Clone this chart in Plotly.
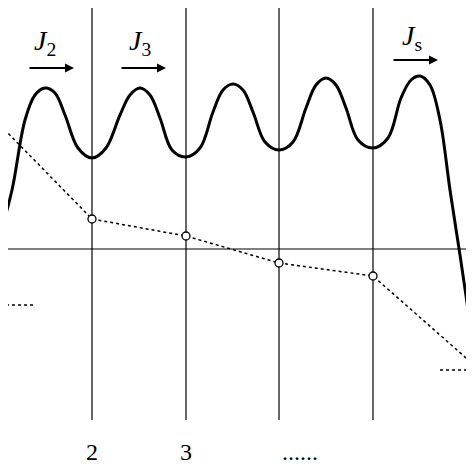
import plotly.graph_objects as go

# schematic coordinates (units on 0..474 canvas, y downward)
curve_x = [0, 12, 25, 35, 45, 55, 65, 78, 92, 106, 120, 130, 140, 150, 160, 172, 186, 200, 213, 223, 233, 243, 253, 265, 279, 293, 306, 316, 326, 336, 346, 358, 373, 388, 401, 411, 420, 430, 440, 450, 460, 474]
curve_y = [235, 190, 120, 95, 88, 93, 115, 148, 158, 148, 115, 95, 88, 95, 118, 150, 157, 148, 112, 90, 84, 90, 112, 142, 150, 142, 108, 85, 78, 85, 108, 140, 148, 138, 98, 80, 76, 85, 120, 190, 255, 350]
vlines_x = [92, 186, 279, 373]
dot_x = [0, 92, 186, 279, 373, 474]
dot_y = [125, 219, 236, 263, 276, 365]
marker_x = [92, 186, 279, 373]
marker_y = [219, 236, 263, 276]
bottom_labels = ["2", "3", "......"]
bottom_label_x = [92, 186, 300]

fig = go.Figure()
for vx in vlines_x:
    fig.add_trace(go.Scatter(x=[vx, vx], y=[0, 420], mode="lines", line=dict(color="black", width=1.2), hoverinfo="skip"))
fig.add_trace(go.Scatter(x=[0, 474], y=[249, 249], mode="lines", line=dict(color="black", width=1.2)))
fig.add_trace(go.Scatter(x=curve_x, y=curve_y, mode="lines", line=dict(color="black", width=3, shape="spline", smoothing=1)))
fig.add_trace(go.Scatter(x=dot_x, y=dot_y, mode="lines", line=dict(color="black", width=1.5, dash="dot")))
fig.add_trace(go.Scatter(x=marker_x, y=marker_y, mode="markers", marker=dict(color="white", size=8, line=dict(color="black", width=1.3))))
fig.add_trace(go.Scatter(x=[0, 35], y=[305, 305], mode="lines", line=dict(color="black", width=1.5, dash="dot")))
fig.add_trace(go.Scatter(x=[440, 474], y=[370, 370], mode="lines", line=dict(color="black", width=1.5, dash="dot")))

font = dict(family="Liberation Serif", size=24, color="black")
for t, x in zip(bottom_labels, bottom_label_x):
    fig.add_annotation(x=x, y=452, text=t, showarrow=False, font=font)
jfont = dict(family="Liberation Serif", size=28, color="black")
for t, x, y in [("<i>J</i><sub>2</sub>", 45, 42), ("<i>J</i><sub>3</sub>", 140, 42), ("<i>J</i><sub>s</sub>", 412, 37)]:
    fig.add_annotation(x=x, y=y, text=t, showarrow=False, font=jfont)
for x0, x1, y in [(28, 74, 68), (120, 166, 68), (392, 438, 60)]:
    fig.add_annotation(x=x1, y=y, ax=x0, ay=y, xref="x", yref="y", axref="x", ayref="y",
                       showarrow=True, arrowhead=2, arrowsize=1, arrowwidth=1.8, arrowcolor="black", text="")

fig.update_layout(width=466, height=466, margin=dict(l=0, r=0, t=0, b=0), showlegend=False,
                  plot_bgcolor="white", paper_bgcolor="white",
                  xaxis=dict(range=[8, 474], visible=False),
                  yaxis=dict(range=[474, 8], visible=False))
fig.write_html("out.html")
